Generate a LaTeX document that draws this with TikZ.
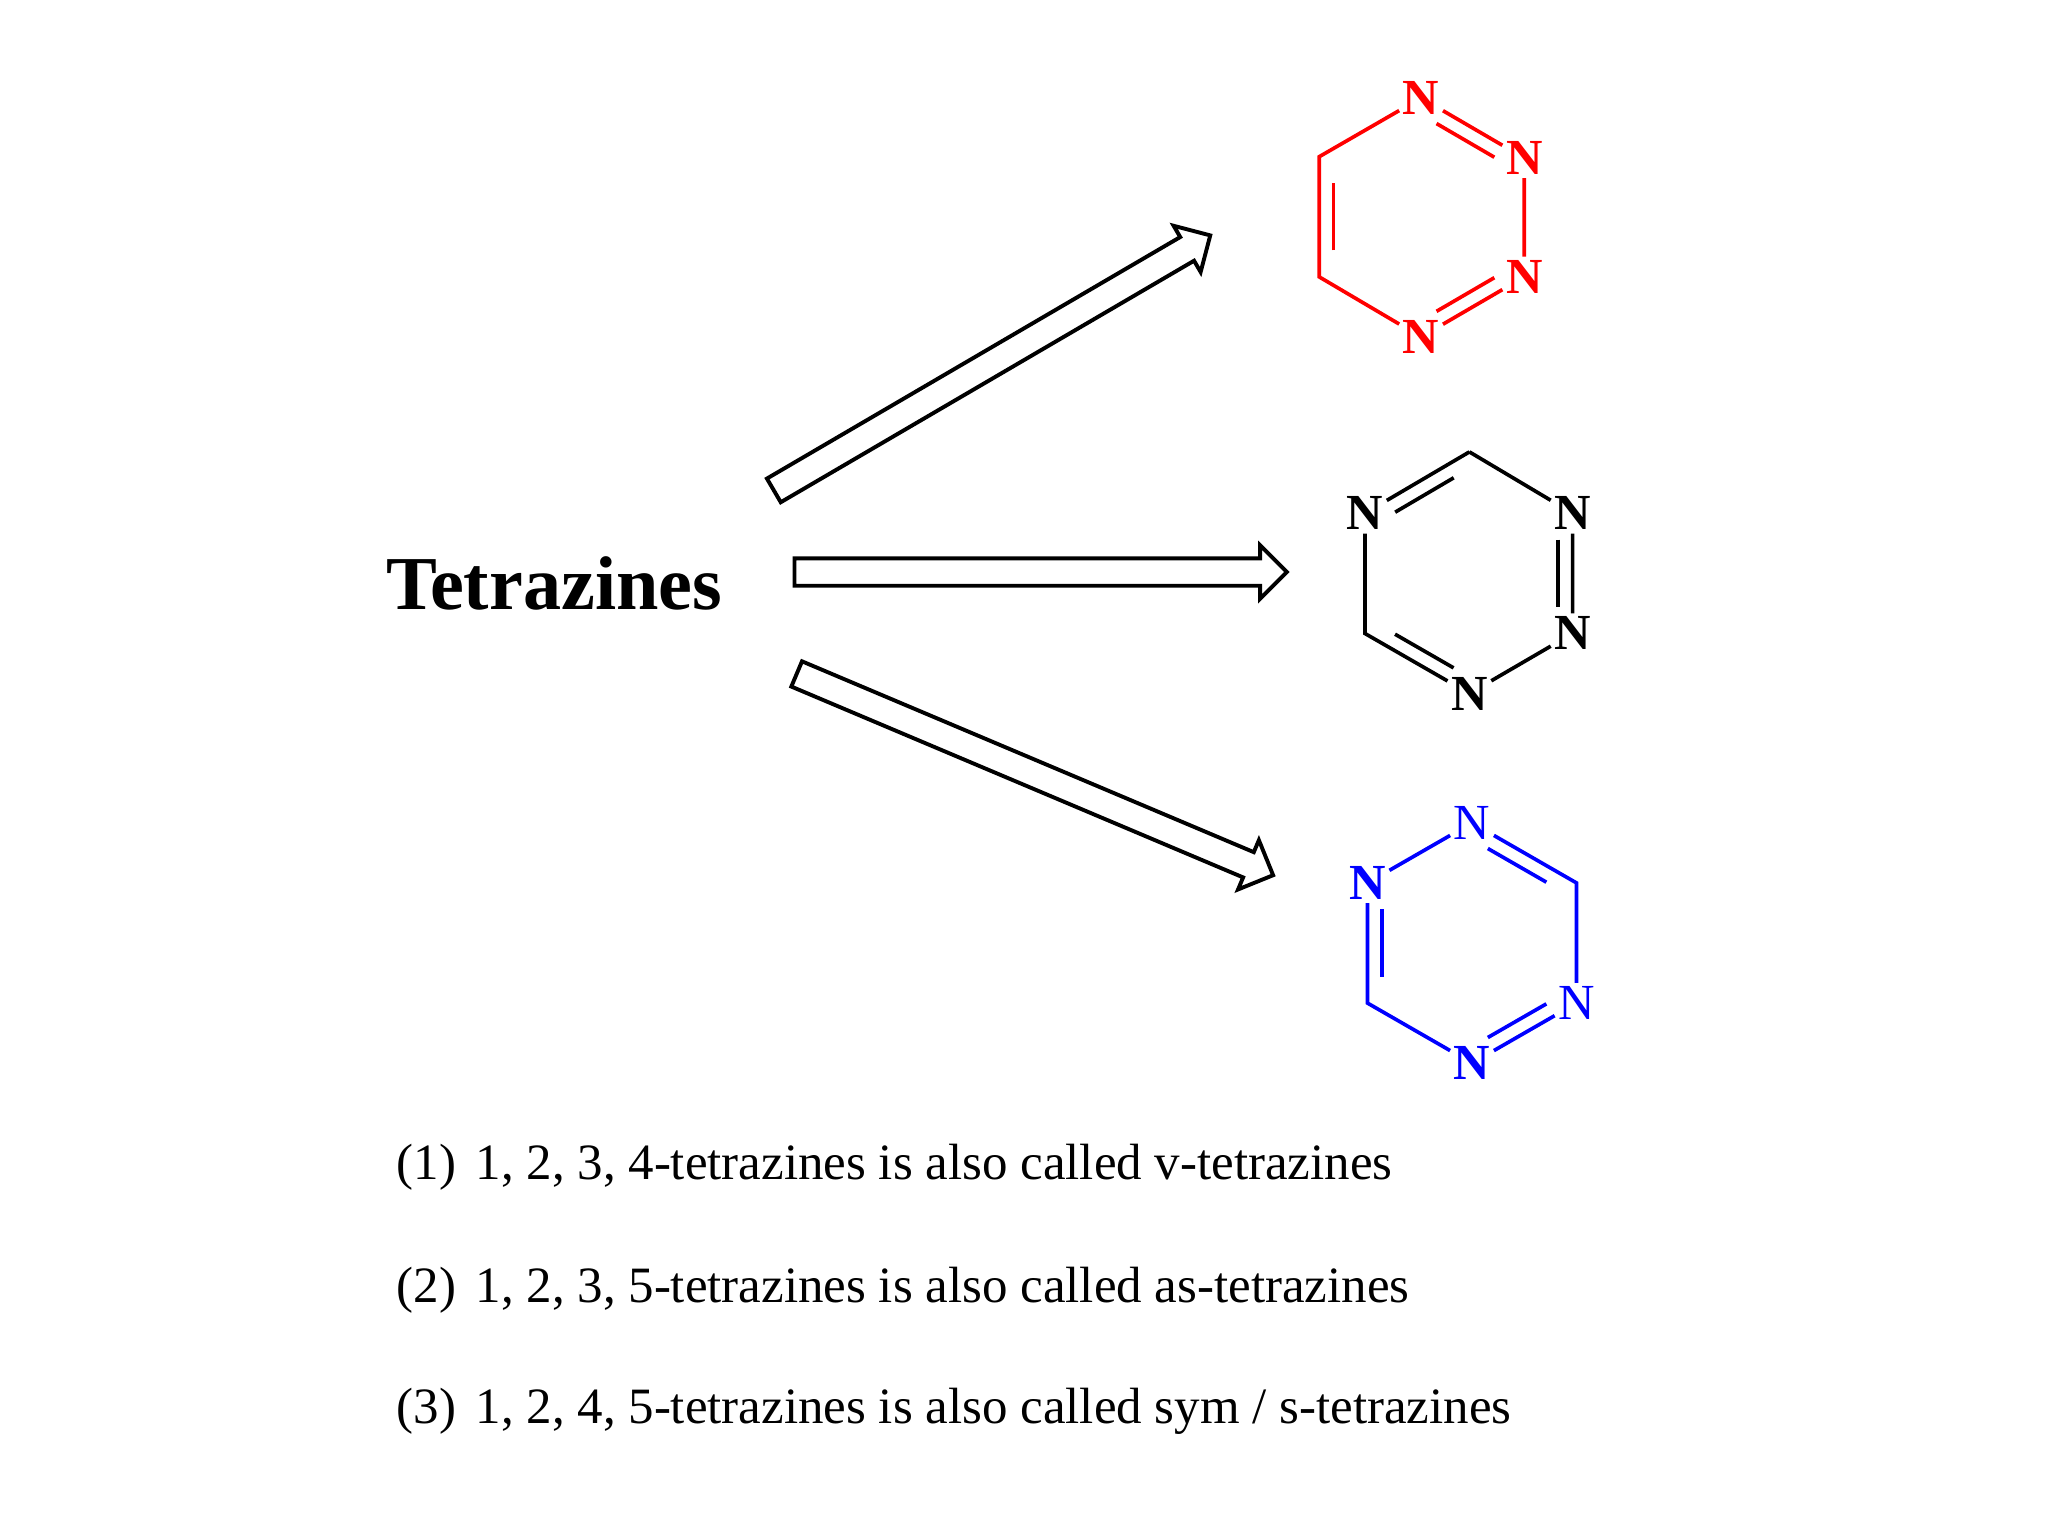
\documentclass[tikz,border=0pt]{standalone}
\usepackage{fontspec}
\setmainfont{Liberation Serif}
\usetikzlibrary{shapes.arrows,calc}
\tikzset{
  atm/.style={font=\bfseries\fontsize{11}{11}\selectfont, inner sep=0.6pt},
  atmr/.style={font=\fontsize{11}{11}\selectfont, inner sep=0.6pt},
  bond/.style={line width=0.8pt},
  harrow/.style={single arrow, draw, line width=0.85pt, inner xsep=0pt, inner ysep=0.09cm,
    single arrow head extend=0.1cm, single arrow head indent=0cm},
  lbl/.style={anchor=base west, inner sep=0pt, font=\fontsize{11.1}{13}\selectfont}
}
\newcommand{\dbl}[2]{\draw[bond] ($(#1)!0.22!(#2)!0.11cm!-90:(#2)$) -- ($(#2)!0.22!(#1)!0.11cm!90:(#1)$);}
\begin{document}
\begin{tikzpicture}
\useasboundingbox (0,0) rectangle (15.68,-11.76);
\node[anchor=base west, inner sep=0pt, font=\bfseries\fontsize{16.6}{20}\selectfont] (t) at (2.95,-4.67) {Tetrazines};
\node[harrow, minimum height=3.87cm, rotate=30.3] (a1) at (7.55,-2.805) {};
\node[harrow, minimum height=3.77cm] (a2) at (7.915,-4.38) {};
\node[harrow, minimum height=3.96cm, rotate=-22.9] (a3) at (7.875,-5.91) {};
\begin{scope}[red]
\node[atm] (r1) at (10.88,-0.75) {N};
\node[atm] (r2) at (11.67,-1.21) {N};
\node[atm] (r3) at (11.67,-2.12) {N};
\node[atm] (r4) at (10.88,-2.58) {N};
\coordinate (r5) at (10.10,-2.12);
\coordinate (r6) at (10.10,-1.20);
\draw[bond] (r1)--(r2)--(r3)--(r4)--(r5)--(r6)--(r1);
\dbl{r1}{r2}\dbl{r3}{r4}\dbl{r5}{r6}
\end{scope}
\coordinate (b1) at (11.25,-3.46);
\node[atm] (b2) at (12.04,-3.93) {N};
\node[atm] (b3) at (12.04,-4.85) {N};
\node[atm] (b4) at (11.25,-5.31) {N};
\coordinate (b5) at (10.45,-4.85);
\node[atm] (b6) at (10.45,-3.93) {N};
\draw[bond] (b1)--(b2)--(b3)--(b4)--(b5)--(b6)--(b1);
\dbl{b6}{b1}\dbl{b2}{b3}\dbl{b4}{b5}
\begin{scope}[blue]
\node[atmr] (s1) at (11.27,-6.30) {N};
\coordinate (s2) at (12.07,-6.76);
\node[atmr] (s3) at (12.07,-7.68) {N};
\node[atm] (s4) at (11.27,-8.14) {N};
\coordinate (s5) at (10.47,-7.68);
\node[atm] (s6) at (10.47,-6.76) {N};
\draw[bond] (s1)--(s2)--(s3)--(s4)--(s5)--(s6)--(s1);
\dbl{s1}{s2}\dbl{s3}{s4}\dbl{s5}{s6}
\end{scope}
\node[lbl] (l1) at (3.03,-9.03) {(1)\hspace{0.15cm}1, 2, 3, 4-tetrazines is also called v-tetrazines};
\node[lbl] (l2) at (3.03,-9.97) {(2)\hspace{0.15cm}1, 2, 3, 5-tetrazines is also called as-tetrazines};
\node[lbl] (l3) at (3.03,-10.90) {(3)\hspace{0.15cm}1, 2, 4, 5-tetrazines is also called sym / s-tetrazines};
\end{tikzpicture}
\end{document}
